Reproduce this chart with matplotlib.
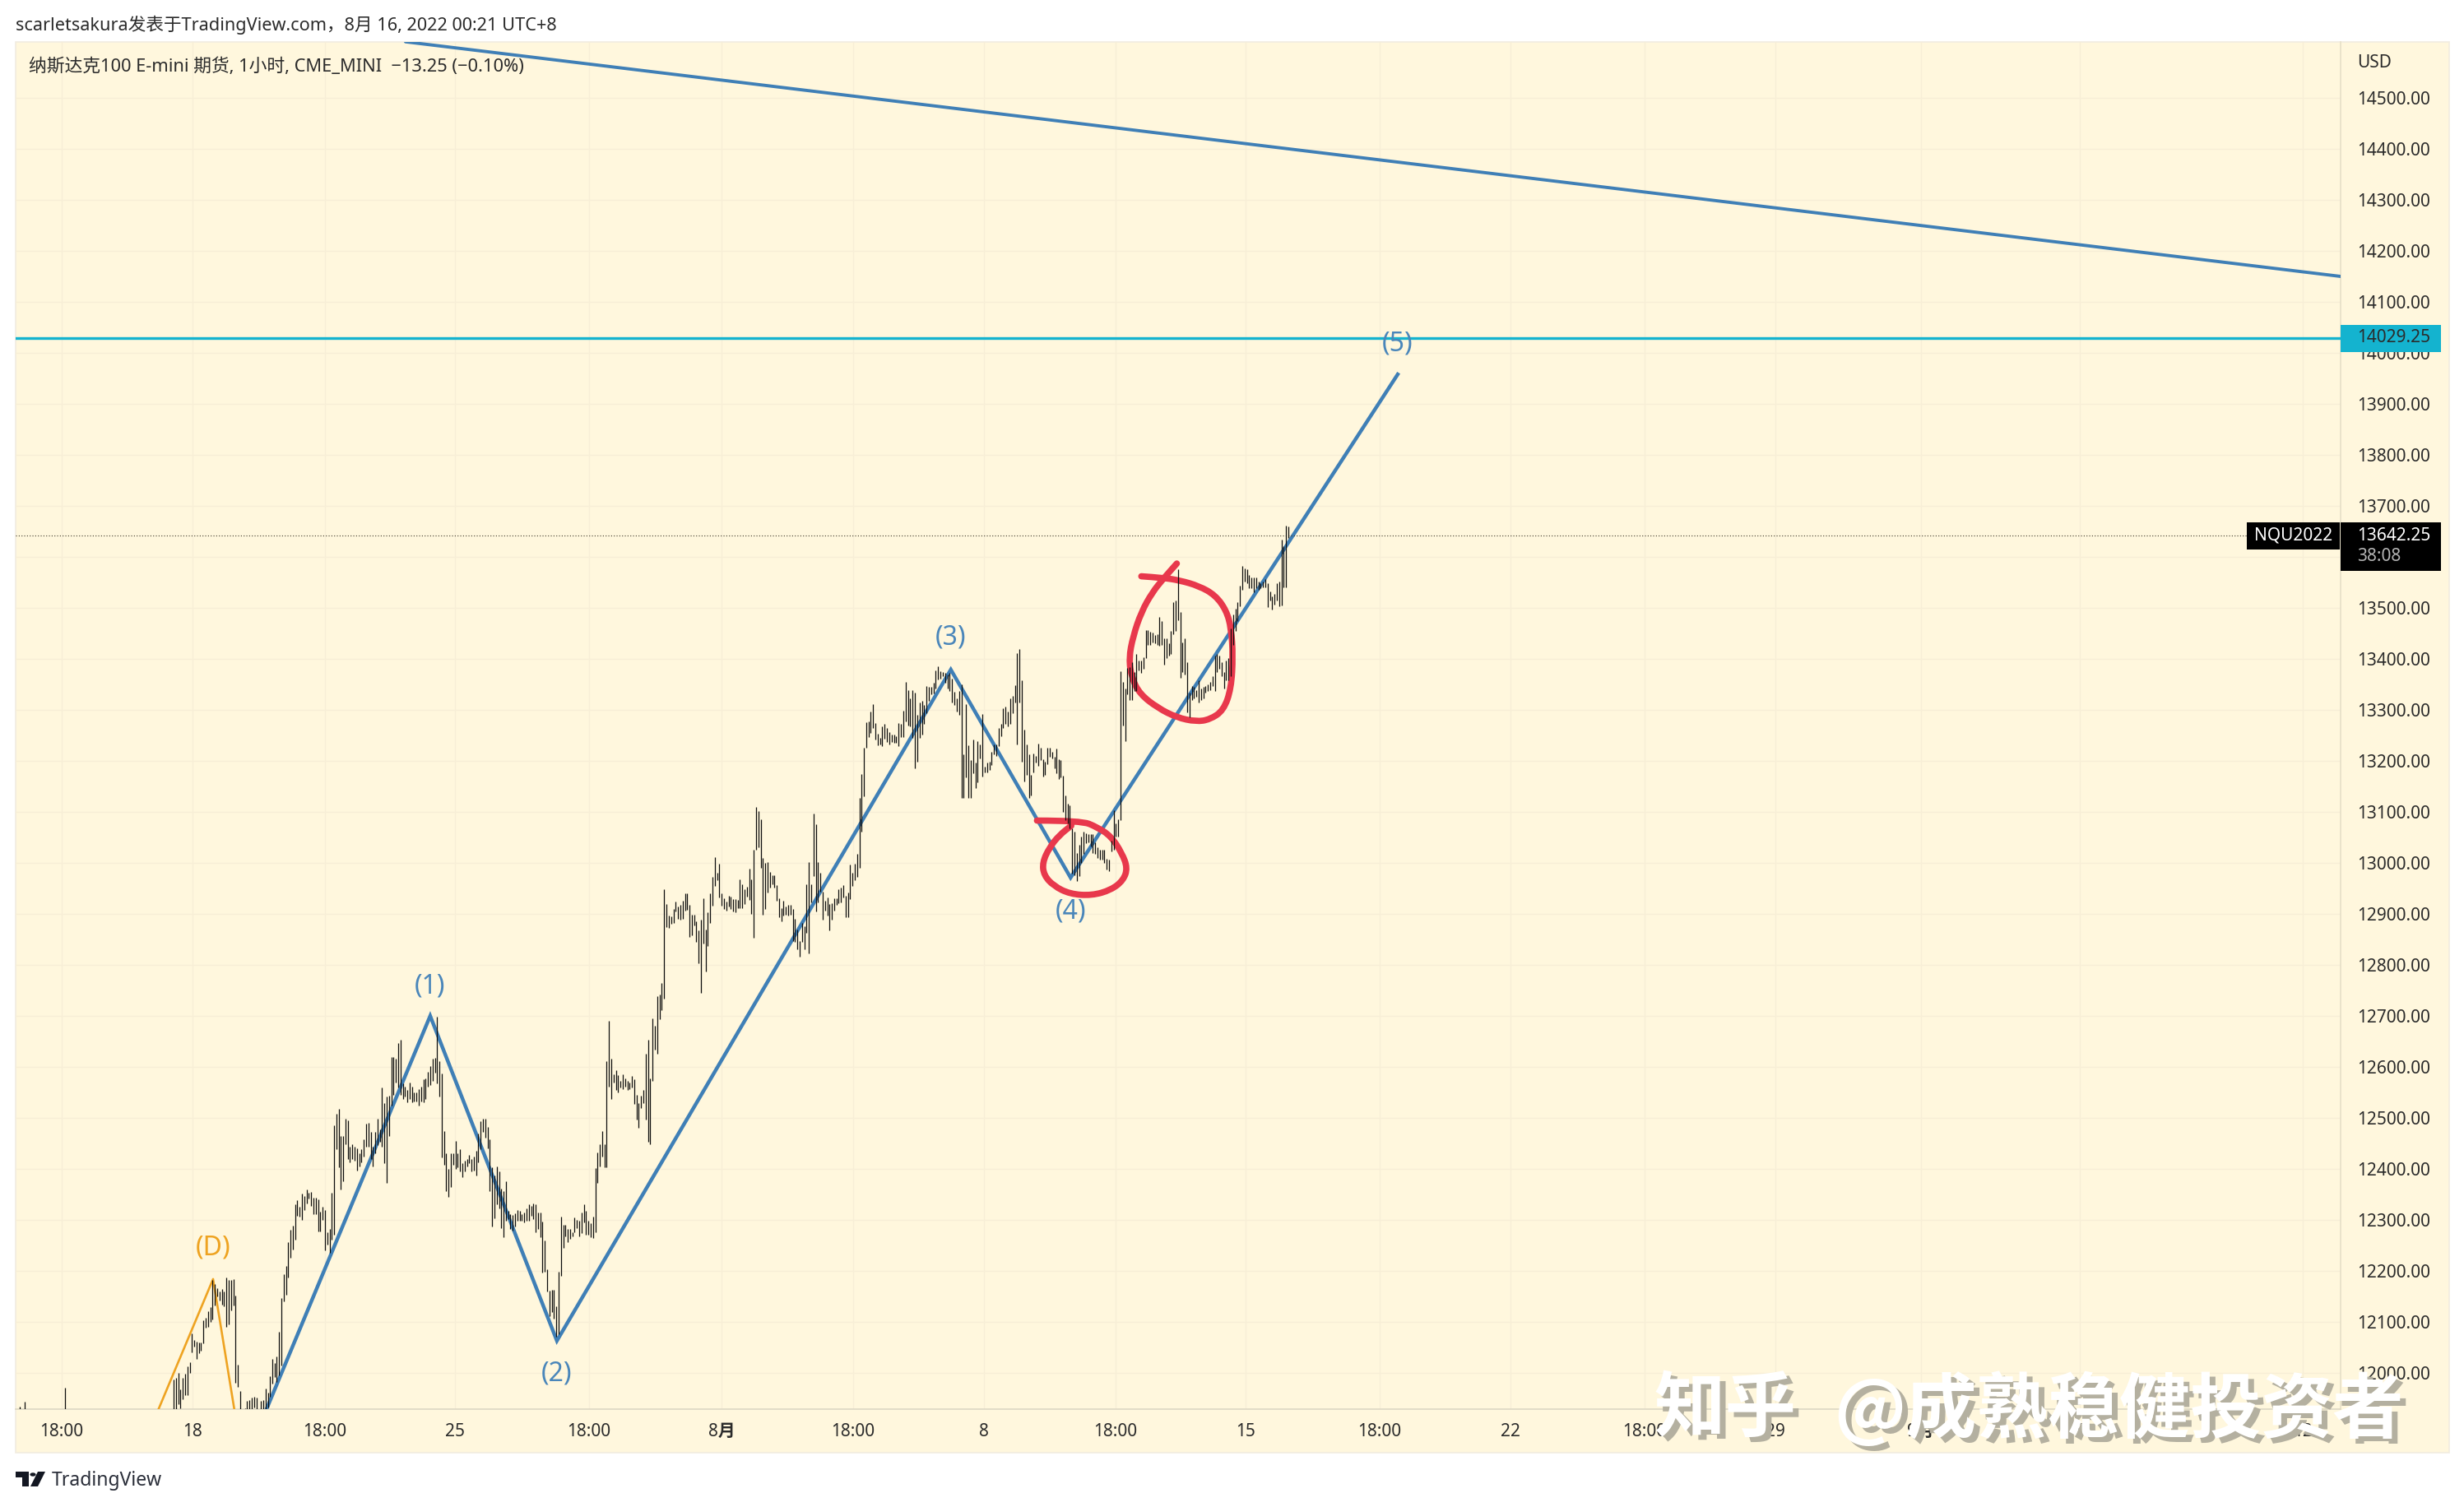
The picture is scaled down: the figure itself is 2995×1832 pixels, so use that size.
import numpy as np
import matplotlib
matplotlib.use("Agg")
import matplotlib.pyplot as plt
from matplotlib.patches import Rectangle, Polygon, Circle, PathPatch
from matplotlib.path import Path
from matplotlib.transforms import blended_transform_factory as blend

FONT = ['Noto Sans', 'Noto Sans CJK SC', 'DejaVu Sans']
plt.rcParams['font.family'] = FONT

W, H = 2995, 1832
BG = '#fff7dd'
GRID = '#f7eed6'
INK = '#2b2b2b'
BLUE = '#3f7fb6'
CYAN = '#14b3cf'
ORANGE = '#eea321'
RED = '#e8384c'

# Hourly bars of the NQ September contract, grouped in consecutive stretches.
early_idx = [0, 2, 19.5]
early_hi = [11934, 11943, 11971]
early_lo = [11900, 11900, 11900]

span_a = (66.6, 108.5)
hi_a = [11987, 11991, 12000, 11968, 11991, 11998, 12013, 12021, 12078, 12065, 12062, 12059, 12059, 12104, 12108,
        12121, 12129, 12183, 12174, 12166, 12159, 12165, 12160, 12187, 12183, 12183, 12184, 12151, 12016, 11965,
        11925, 11930, 11945, 11947, 11952, 11953, 11952, 11920, 11945, 11946, 11970, 11961, 11994]
lo_a = [11900, 11900, 11938, 11930, 11949, 11957, 11957, 12000, 12041, 12051, 12028, 12038, 12043, 12058, 12089,
        12091, 12100, 12105, 12133, 12150, 12142, 12134, 12130, 12091, 12095, 12122, 12132, 11981, 11973, 11900,
        11900, 11900, 11900, 11925, 11900, 11933, 11900, 11900, 11900, 11900, 11900, 11933, 11954]

span_b = (109.4, 135.3)
hi_b = [12028, 12020, 12033, 12081, 12146, 12194, 12210, 12257, 12281, 12288, 12330, 12338, 12325, 12351, 12347,
        12359, 12353, 12355, 12343, 12343, 12341, 12316, 12325, 12319, 12275, 12283, 12353]
lo_b = [11979, 11992, 11982, 11995, 12014, 12141, 12153, 12187, 12226, 12242, 12261, 12308, 12307, 12300, 12319,
        12333, 12342, 12328, 12311, 12312, 12277, 12278, 12300, 12240, 12252, 12235, 12261]

span_c = (136.25, 278.5)
hi_c = [12486, 12508, 12517, 12465, 12465, 12499, 12495, 12443, 12448, 12444, 12440, 12430, 12438, 12458, 12489,
        12490, 12473, 12443, 12473, 12498, 12478, 12560, 12529, 12542, 12544, 12620, 12619, 12616, 12646, 12654,
        12567, 12561, 12555, 12569, 12561, 12550, 12550, 12556, 12561, 12576, 12577, 12591, 12602, 12616, 12618,
        12698, 12612, 12587, 12474, 12430, 12400, 12430, 12430, 12455, 12430, 12438, 12411, 12416, 12419, 12428,
        12419, 12424, 12435, 12470, 12494, 12498, 12499, 12483, 12458, 12403, 12387, 12405, 12395, 12362, 12357,
        12376, 12317, 12311, 12309, 12313, 12319, 12317, 12311, 12314, 12322, 12331, 12327, 12333, 12330, 12314,
        12314, 12297, 12260, 12204, 12161, 12163, 12163, 12131, 12198, 12306, 12290, 12290, 12282, 12283, 12276,
        12305, 12300, 12298, 12314, 12330, 12317, 12299, 12294, 12306, 12401, 12433, 12448, 12474, 12449, 12611,
        12690, 12616, 12585, 12594, 12584, 12572, 12585, 12578, 12572, 12569, 12582, 12575, 12545, 12529, 12544,
        12555, 12626, 12653, 12577, 12695, 12680, 12739, 12742, 12765]
lo_c = [12271, 12438, 12403, 12360, 12376, 12448, 12419, 12413, 12419, 12416, 12397, 12405, 12413, 12424, 12443,
        12443, 12419, 12405, 12430, 12446, 12454, 12443, 12411, 12373, 12465, 12524, 12545, 12569, 12559, 12545,
        12537, 12542, 12530, 12537, 12530, 12532, 12533, 12524, 12532, 12530, 12537, 12562, 12564, 12572, 12588,
        12567, 12542, 12422, 12408, 12357, 12345, 12365, 12408, 12400, 12403, 12395, 12384, 12395, 12405, 12412,
        12395, 12397, 12387, 12413, 12438, 12473, 12462, 12440, 12357, 12287, 12303, 12330, 12322, 12284, 12266,
        12298, 12301, 12282, 12279, 12287, 12298, 12298, 12298, 12295, 12298, 12298, 12308, 12301, 12276, 12282,
        12266, 12196, 12198, 12160, 12112, 12120, 12106, 12071, 12075, 12190, 12245, 12268, 12257, 12263, 12268,
        12276, 12284, 12268, 12274, 12295, 12271, 12271, 12266, 12265, 12276, 12373, 12405, 12424, 12403, 12403,
        12561, 12537, 12569, 12555, 12550, 12560, 12557, 12561, 12555, 12557, 12559, 12528, 12496, 12481, 12519,
        12529, 12496, 12454, 12448, 12573, 12634, 12625, 12693, 12711]

span_d = (279.6, 366.3)
hi_d = [12948, 12920, 12896, 12895, 12909, 12924, 12915, 12917, 12925, 12941, 12941, 12917, 12898, 12898, 12885,
        12867, 12888, 12931, 12870, 12903, 12940, 12972, 13012, 12981, 12999, 12940, 12931, 12924, 12936, 12934,
        12929, 12929, 12928, 12967, 12958, 12949, 12954, 12988, 12968, 13026, 13109, 13101, 13085, 13010, 13000,
        13001, 12983, 12975, 12976, 12956, 12930, 12912, 12925, 12915, 12918, 12918, 12910, 12890, 12870, 12847,
        12882, 12875, 12958, 13001, 12958, 13097, 13076, 13001, 12980, 12944, 12925, 12933, 12920, 12921, 12931,
        12931, 12948, 12952, 12956, 12936, 12942, 12996, 12981, 12998, 13017, 13128, 13174, 13225]
lo_d = [12734, 12874, 12873, 12881, 12882, 12905, 12890, 12889, 12890, 12906, 12908, 12855, 12858, 12877, 12845,
        12804, 12745, 12842, 12787, 12837, 12882, 12916, 12955, 12966, 12932, 12916, 12909, 12906, 12915, 12909,
        12905, 12904, 12911, 12912, 12911, 12920, 12934, 12927, 12900, 12854, 13026, 13031, 12991, 12898, 12909,
        12942, 12952, 12958, 12951, 12925, 12893, 12886, 12896, 12898, 12896, 12898, 12847, 12845, 12830, 12816,
        12845, 12831, 12863, 12822, 12923, 12974, 12905, 12923, 12944, 12888, 12906, 12896, 12868, 12888, 12906,
        12917, 12921, 12923, 12932, 12893, 12893, 12929, 12955, 12966, 12973, 12990, 13062, 13131]

span_e = (367.2, 451.0)
hi_e = [13276, 13278, 13296, 13311, 13274, 13253, 13245, 13267, 13272, 13264, 13256, 13251, 13251, 13248, 13274,
        13272, 13299, 13355, 13338, 13323, 13339, 13334, 13291, 13315, 13318, 13310, 13347, 13345, 13345, 13354,
        13378, 13385, 13375, 13374, 13373, 13369, 13372, 13361, 13335, 13323, 13337, 13350, 13213, 13311, 13230,
        13202, 13242, 13197, 13238, 13232, 13292, 13188, 13197, 13199, 13218, 13232, 13232, 13265, 13272, 13304,
        13307, 13296, 13323, 13328, 13349, 13412, 13420, 13358, 13261, 13232, 13213, 13172, 13214, 13210, 13234,
        13226, 13203, 13199, 13225, 13225, 13218, 13208, 13224, 13203]
lo_e = [13225, 13246, 13255, 13264, 13242, 13230, 13233, 13229, 13244, 13237, 13232, 13237, 13235, 13235, 13229,
        13246, 13246, 13277, 13269, 13267, 13245, 13186, 13199, 13245, 13252, 13272, 13294, 13318, 13331, 13332,
        13342, 13359, 13361, 13366, 13354, 13342, 13337, 13315, 13310, 13296, 13291, 13127, 13127, 13167, 13127,
        13127, 13175, 13146, 13158, 13205, 13170, 13178, 13178, 13183, 13192, 13213, 13210, 13229, 13248, 13264,
        13272, 13267, 13272, 13294, 13315, 13232, 13315, 13199, 13159, 13173, 13127, 13132, 13178, 13197, 13191,
        13202, 13170, 13173, 13194, 13208, 13205, 13186, 13175, 13165]

span_f = (451.7, 550.5)
hi_f = [13202, 13171, 13133, 13116, 13113, 13068, 13062, 13019, 13035, 13052, 13061, 13058, 13056, 13056, 13056,
        13041, 13030, 13025, 13025, 13025, 13008, 13006, 13044, 13103, 13078, 13086, 13375, 13355, 13342, 13382,
        13384, 13393, 13374, 13409, 13396, 13396, 13404, 13456, 13456, 13454, 13452, 13447, 13449, 13483, 13474,
        13441, 13441, 13431, 13455, 13511, 13514, 13576, 13492, 13433, 13441, 13393, 13334, 13347, 13345, 13339,
        13358, 13342, 13345, 13347, 13350, 13355, 13366, 13406, 13409, 13406, 13393, 13374, 13396, 13401, 13460,
        13487, 13498, 13511, 13544, 13582, 13578, 13576, 13565, 13560, 13560, 13560, 13552, 13549, 13552, 13557,
        13549, 13533, 13522, 13527, 13549, 13552, 13634, 13621, 13661, 13659]
lo_f = [13167, 13100, 13084, 13078, 13068, 12979, 12976, 12965, 12974, 13000, 13017, 13038, 13041, 13033, 13019,
        13017, 13009, 13006, 13006, 13000, 12987, 12984, 13022, 13025, 13052, 13052, 13084, 13269, 13239, 13331,
        13319, 13320, 13337, 13337, 13377, 13372, 13380, 13401, 13428, 13428, 13433, 13431, 13428, 13426, 13428,
        13389, 13402, 13406, 13409, 13449, 13455, 13475, 13363, 13374, 13369, 13295, 13285, 13320, 13323, 13326,
        13315, 13320, 13323, 13334, 13337, 13339, 13347, 13337, 13374, 13380, 13366, 13342, 13358, 13358, 13366,
        13428, 13455, 13474, 13503, 13535, 13552, 13549, 13538, 13538, 13530, 13538, 13535, 13538, 13540, 13541,
        13501, 13514, 13497, 13506, 13514, 13503, 13505, 13540, 13540, 13637]

# Drawing tools: (bar index, price) vertices.
wave_x = [104, 178, 233, 404, 456, 598]
wave_p = [11897, 12700, 12063, 13379, 12971, 13958]
wave_names = ['(1)', '(2)', '(3)', '(4)', '(5)']
wave_offsets = [26, -29, 28, -29.5, 27]

corr_x = [57.3, 83.75, 94]
corr_p = [11899, 12184, 11900]
corr_name = '(D)'

trend_x = [167.3, 1007.3]
trend_p = [14610, 14150]

target_price = 14029.25
last_price = 13642.25

ring_low_x = [441.4, 460.5, 467.6, 473.6, 478.3, 480.7, 478.9, 473.6, 465.2, 455.7, 448.6, 444.4, 443.8, 446.8, 451, 456.3]
ring_low_p = [13083, 13083, 13070, 13052, 13019, 12990, 12966, 12947, 12936, 12939, 12955, 12976, 13001, 13030, 13054, 13073]
ring_high_x = [486.7, 496.2, 503.3, 511.7, 518.8, 523.6, 525.7, 526.5, 525.7, 522.4, 516.4, 510.5, 502.1, 493.8, 486.1,
               482.5, 481.3, 483.1, 486.7, 491.4, 496.2, 502.1]
ring_high_p = [13562, 13559, 13554, 13543, 13525, 13495, 13460, 13406, 13342, 13299, 13281, 13277, 13285, 13304, 13331,
               13363, 13401, 13444, 13492, 13530, 13557, 13587]

price_ticks = list(range(12000, 14600, 100))
time_ticks = [18.0, 74.8, 132.3, 188.8, 247, 304.5, 361.6, 418.4, 475.5, 532, 590, 647, 705, 762, 825, 894, 991]
time_labels = ['18:00', '18', '18:00', '25', '18:00', '8月', '18:00', '8', '18:00', '15', '18:00', '22', '18:00', '29',
               '9月', '5', '12']


def fx(px):
    return px / W


def fy(py):
    return 1 - py / H


fig = plt.figure(figsize=(W / 100, H / 100), dpi=100, facecolor='white')

# Chart panel behind the axes, including the scale strips.
fig.patches.append(Rectangle((fx(19), fy(1766)), fx(2977) - fx(19), fy(51) - fy(1766), transform=fig.transFigure,
                             facecolor=BG, edgecolor='#f1ece0', linewidth=1.2, zorder=-5))

ax = fig.add_axes([fx(19), fy(1713), fx(2845) - fx(19), fy(51) - fy(1713)])
ax.patch.set_alpha(0)
ax.set_xlim(-1.96, 1007.3)
ax.set_ylim(11929, 14609.7)
for side in ('top', 'left'):
    ax.spines[side].set_visible(False)
ax.spines['right'].set_color('#e6dfc8')
ax.spines['bottom'].set_color('#ddd7c3')
for side in ('right', 'bottom'):
    ax.spines[side].set_linewidth(1.2)

ax.yaxis.tick_right()
ax.set_yticks(price_ticks)
ax.set_yticklabels([f'{p:.2f}' for p in price_ticks], fontsize=15, color=INK, ha='left')
ax.set_xticks(time_ticks)
ax.set_xticklabels(time_labels, fontsize=15, color=INK)
ax.tick_params(axis='both', length=0)
ax.tick_params(axis='y', pad=14.4)
ax.tick_params(axis='x', pad=12)
for lab, txt in zip(ax.get_xticklabels(), time_labels):
    if txt.endswith('月'):
        lab.set_fontweight('bold')
ax.grid(True, color=GRID, linewidth=0.9)
ax.set_axisbelow(True)

# Wave counts and trend lines.
ax.plot(trend_x, trend_p, color=BLUE, lw=2.8, zorder=3, solid_capstyle='round')
ax.plot(corr_x, corr_p, color=ORANGE, lw=1.9, zorder=3)
ax.plot(wave_x, wave_p, color=BLUE, lw=3.2, zorder=3, solid_joinstyle='miter')
ax.axhline(target_price, color=CYAN, lw=2.4, zorder=3)
ax.axhline(last_price, color='#3a3526', lw=0.8, ls=(0, (1, 2)), zorder=3)


def smooth_stroke(xs, ys, color, lw):
    """Hand-drawn stroke: quadratic segments through midpoints of the control points."""
    pts = np.column_stack([xs, ys])
    verts = [pts[0]]
    codes = [Path.MOVETO]
    for a, b in zip(pts[1:-1], pts[2:]):
        verts += [a, (a + b) / 2]
        codes += [Path.CURVE3, Path.CURVE3]
    verts.append(pts[-1])
    codes.append(Path.LINETO)
    ax.add_patch(PathPatch(Path(verts, codes), fill=False, edgecolor=color, lw=lw, capstyle='round',
                           joinstyle='round', zorder=3.5))


smooth_stroke(ring_low_x, ring_low_p, RED, 5.5)
smooth_stroke(ring_high_x, ring_high_p, RED, 5.5)

# Price bars.
spans = [(span_a, hi_a, lo_a), (span_b, hi_b, lo_b), (span_c, hi_c, lo_c), (span_d, hi_d, lo_d),
         (span_e, hi_e, lo_e), (span_f, hi_f, lo_f)]
ax.vlines(early_idx, early_lo, early_hi, color='#0d0d0d', lw=0.9, zorder=4)
for (start, end), hi, lo in spans:
    ax.vlines(np.linspace(start, end, len(hi)), lo, hi, color='#0d0d0d', lw=0.9, zorder=4)

# Wave labels.
label_points = list(zip(wave_x[1:], wave_p[1:]))
for name, (bx, bp), off in zip(wave_names, label_points, wave_offsets):
    ax.annotate(name, (bx, bp), xytext=(0, off), textcoords='offset points', ha='center', va='center',
                fontsize=23, color='#4a86ba', zorder=5)
ax.annotate(corr_name, (corr_x[1], corr_p[1]), xytext=(0, 27), textcoords='offset points', ha='center', va='center',
            fontsize=23, color=ORANGE, zorder=5)

# Price scale tags.
tag_tf = blend(ax.transAxes, ax.transData)
px_w = 1 / (2845 - 19)
pts_per_px = (14609.7 - 11929) / (1713 - 51)
ax.add_patch(Rectangle((1, target_price - 27), 122 * px_w, 33 * pts_per_px, transform=tag_tf, clip_on=False,
                       facecolor=CYAN, edgecolor='none', zorder=6))
ax.text(1 + 20 * px_w, target_price, f'{target_price:.2f}', transform=tag_tf, va='center', ha='left', fontsize=15,
        color=INK, zorder=7)
ax.add_patch(Rectangle((1, last_price - 69), 122 * px_w, 59 * pts_per_px, transform=tag_tf, clip_on=False,
                       facecolor='black', edgecolor='none', zorder=6))
ax.add_patch(Rectangle((1 - 114 * px_w, last_price - 27), 113 * px_w, 33 * pts_per_px, transform=tag_tf, clip_on=False,
                       facecolor='black', edgecolor='none', zorder=6))
ax.text(1 - 57 * px_w, last_price - 1, 'NQU2022', transform=tag_tf, va='center', ha='center', fontsize=15,
        color='white', zorder=7)
ax.text(1 + 20 * px_w, last_price - 1, f'{last_price:.2f}', transform=tag_tf, va='center', ha='left', fontsize=15,
        color='white', zorder=7)
ax.text(1 + 20 * px_w, last_price - 42, '38:08', transform=tag_tf, va='center', ha='left', fontsize=15,
        color='#b4b4b4', zorder=7)

# Header, currency and footer.
fig.text(fx(19), fy(30), 'scarletsakura发表于TradingView.com，8月 16, 2022 00:21 UTC+8', fontsize=15.6, color=INK,
         va='center', ha='left')
ax.text(35 / 2826 - 19 / 2826, 1 - 30 / 1662, '纳斯达克100 E-mini 期货, 1小时, CME_MINI  −13.25 (−0.10%)', transform=ax.transAxes,
        fontsize=15.7, color=INK, va='center', ha='left', zorder=7)
fig.text(fx(2865), fy(76), 'USD', fontsize=15, color=INK, va='center', ha='left')
fig.text(fx(63), fy(1800), 'TradingView', fontsize=16.5, color='#2a2e39', va='center', ha='left')


def logo_poly(points):
    fig.patches.append(Polygon([(fx(x), fy(y)) for x, y in points], closed=True, transform=fig.transFigure,
                               facecolor='#131722', edgecolor='none'))


logo_poly([(19, 1789), (35, 1789), (35, 1807), (27, 1807), (27, 1796), (19, 1796)])
logo_poly([(46, 1789), (55, 1789), (46, 1807), (37, 1807)])
fig.patches.append(Circle((fx(40), fy(1792.5)), 3.6 / W, transform=fig.transFigure, facecolor='#131722',
                          edgecolor='none'))

# Site credit across the lower right corner, with its drop shadow.
credit_parts = (('知乎', 2010), ('@成熟稳健投资者', 2229))
for part, left in credit_parts:
    fig.text(fx(left + 7), fy(1720), part, fontsize=62.3, fontweight='bold', color='#b4b0a0',
             family=['Noto Sans CJK SC', 'DejaVu Sans'], va='center', ha='left', zorder=20)
for part, left in credit_parts:
    fig.text(fx(left), fy(1714), part, fontsize=62.3, fontweight='bold', color='white',
             family=['Noto Sans CJK SC', 'DejaVu Sans'], va='center', ha='left', zorder=21)

fig.savefig('out.png', dpi=100, facecolor='white')
